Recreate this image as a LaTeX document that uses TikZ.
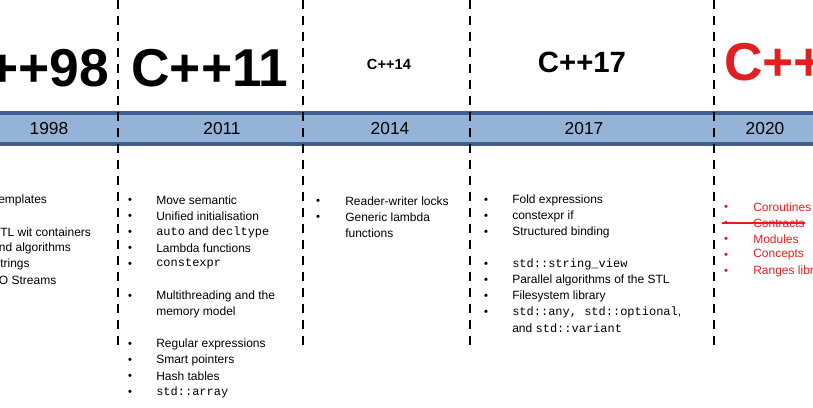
\documentclass[tikz,border=0pt]{standalone}
\usepackage{fontspec}
\setmainfont{Liberation Sans}
\setmonofont{Liberation Mono}
\definecolor{bandfill}{HTML}{95B3D7}
\definecolor{bandline}{HTML}{3F5F90}
\definecolor{newred}{HTML}{E02020}
\tikzset{
  item/.style={anchor=west, inner sep=0pt, font=\fontsize{9}{10}\selectfont},
  dot/.style={anchor=center, inner sep=0pt, font=\fontsize{5}{5}\selectfont},
  year/.style={inner sep=0pt, font=\fontsize{13}{14}\selectfont},
  title/.style={inner sep=0pt, font=\bfseries\fontsize{#1}{#1}\selectfont},
  era/.style={black, line width=1.6pt, dash pattern=on 7pt off 5pt}
}
\begin{document}
\begin{tikzpicture}[x=0.75pt,y=-0.75pt]
  \useasboundingbox (0,0) rectangle (813,407);
  \clip (0,0) rectangle (813,407);

  % Band with years
  \fill[bandfill] (0,113) rectangle (813,144);
  \draw[bandline, line width=2.4pt] (0,113) -- (813,113);
  \draw[bandline, line width=2.4pt] (0,144) -- (813,144);
  \foreach \x/\y in {49/1998, 222/2011, 390/2014, 584/2017, 765/2020}
    \node[year] (y\y) at (\x,129) {\y};

  % Era separators
  \foreach \x in {118,303,470,714}
    \draw[era] (\x,0) -- (\x,345);

  % Titles
  \node[title=40, anchor=east] (t98) at (109,68) {C++98};
  \node[title=40] (t11) at (210,68) {C++11};
  \node[title=11] (t14) at (389,64) {C++14};
  \node[title=22] (t17) at (582,62) {C++17};
  \node[title=40, anchor=west, newred] (t20) at (724,62) {C++20};

  % C++98
  \foreach \y/\t in {200/Templates, 232/STL wit containers, 248/and algorithms,
                     264/Strings, 280/{I/O Streams}}
    \node[item] at (-8,\y) {\t};

  % C++11
  \foreach \y/\t in {200/Move semantic, 216/Unified initialisation,
                     232/{\texttt{auto} and \texttt{decltype}}, 248/Lambda functions,
                     264/\texttt{constexpr}, 296/Multithreading and the,
                     344/Regular expressions, 360/Smart pointers,
                     376/Hash tables, 392/\texttt{std::array}}
    {\node[dot] at (130,\y) {$\bullet$};
     \node[item] at (156,\y) {\t};}
  \node[item] at (156,312) {memory model};

  % C++14
  \foreach \y/\t in {201/Reader-writer  locks, 217/Generic lambda}
    {\node[dot] at (318,\y) {$\bullet$};
     \node[item] at (345,\y) {\t};}
  \node[item] at (345,233) {functions};

  % C++17
  \foreach \y/\t in {200/Fold expressions, 216/constexpr if, 232/Structured binding,
                     264/\texttt{std::string\_view}, 280/Parallel algorithms of the STL,
                     296/Filesystem library,
                     312/{\texttt{std::any, std::optional},}}
    {\node[dot] at (486,\y) {$\bullet$};
     \node[item] at (512,\y) {\t};}
  \node[item] at (512,328) {and \texttt{std::variant}};

  % C++20
  \foreach \y/\t in {207/Coroutines, 223/Contracts, 239/Modules,
                     255/Concepts, 271/Ranges library}
    {\node[dot, newred] at (726,\y) {$\bullet$};
     \node[item, newred] (c\y) at (753,\y) {\t};}
  \draw[newred, line width=0.8pt] (722,223) -- (c223.east);
\end{tikzpicture}
\end{document}
